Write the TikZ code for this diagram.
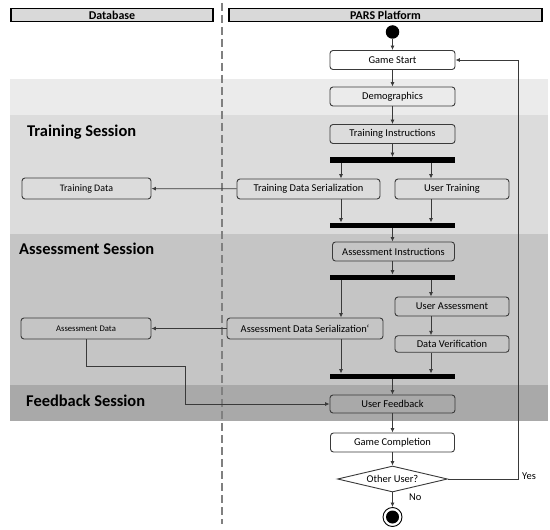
\documentclass[tikz,border=0pt]{standalone}
\usepackage{fontspec}
\setmainfont{Carlito}
\usetikzlibrary{arrows.meta,shapes.geometric}

\definecolor{band0}{HTML}{EBEBEB}
\definecolor{band1}{HTML}{DCDCDC}
\definecolor{band2}{HTML}{C5C5C5}
\definecolor{band3}{HTML}{A9A9A9}
\definecolor{edge}{HTML}{3A3A3A}

\tikzset{
  act/.style={draw=edge,line width=0.9bp,rounded corners=3bp,minimum height=19bp,inner sep=1bp,font=\fontsize{10.5}{12}\selectfont},
  bar/.style={fill=black,minimum width=125bp,minimum height=5.5bp,inner sep=0pt},
  lane/.style={draw=black,line width=1.6bp,fill=black!15,minimum height=13bp,inner sep=0pt,font=\bfseries\fontsize{12}{14}\selectfont},
  session/.style={anchor=base west,inner sep=0pt,font=\bfseries\fontsize{16.5}{18}\selectfont},
  flow/.style={-{Latex[length=4.5bp,width=4bp]},draw=edge,line width=0.8bp}
}

\begin{document}
\begin{tikzpicture}[x=1bp,y=-1bp]
\useasboundingbox (0,0) rectangle (550,530);

% session bands
\fill[band0] (10,79) rectangle (548,115);
\fill[band1] (10,115) rectangle (548,234);
\fill[band2] (10,234) rectangle (548,385);
\fill[band3] (10,385) rectangle (548,421);

\node[session](training session) at (27,137) {Training Session};
\node[session](assessment session) at (19,254) {Assessment Session};
\node[session](feedback session) at (26,406) {Feedback Session};

% swimlanes
\node[lane,minimum width=202bp](database) at (112,15) {Database};
\node[lane,minimum width=313bp](pars platform) at (385.5,15) {PARS Platform};
\draw[draw=gray,line width=1.1bp,dash pattern=on 8bp off 4bp] (222,3) -- (222,524);

\coordinate (lcol) at (341,0);
\coordinate (rcol) at (431,0);

\node[circle,fill=black,minimum size=13.5bp,inner sep=0pt](start) at (392.5,32) {};

\node[act,fill=white,minimum width=125bp](game start) at (392.5,60) {Game Start};

\node[act,minimum width=125bp](demographics) at (392.5,96.5) {Demographics};

\node[act,minimum width=125bp](training instructions) at (392.5,134) {Training Instructions};

\node[bar](fork1) at (392.5,160) {};

\node[act,minimum width=143bp,minimum height=20bp](training data serialization) at (308.5,189) {Training Data Serialization};
\node[act,minimum width=114bp,minimum height=20bp](user training) at (452,189) {User Training};
\node[act,minimum width=129bp,minimum height=21bp,font=\fontsize{10}{12}\selectfont](training data) at (86.5,188.5) {Training Data};

\node[bar](join1) at (392.5,225.5) {};

\node[act,minimum width=122bp](assessment instructions) at (393.5,251.5) {Assessment Instructions};

\node[bar](fork2) at (392.5,277.5) {};

\node[act,minimum width=114bp](user assessment) at (452,306.5) {User Assessment};
\node[act,minimum width=156bp,minimum height=21bp](assessment data serialization) at (305,328.5) {Assessment Data Serialization`};
\node[act,minimum width=130bp,minimum height=21bp,font=\fontsize{8.7}{10}\selectfont](assessment data) at (86,328.5) {Assessment Data};
\node[act,minimum width=114bp,minimum height=16.5bp](data verification) at (452,344) {Data Verification};

\node[bar](join2) at (392.5,376.5) {};

\node[act,minimum width=125bp,minimum height=18bp](user feedback) at (392.5,404) {User Feedback};

\node[act,fill=white,minimum width=124bp](game completion) at (392.5,442.5) {Game Completion};

\node[diamond,draw=edge,line width=0.9bp,fill=white,aspect=4.2,inner sep=0pt,minimum width=110bp,minimum height=26bp,font=\fontsize{10.5}{12}\selectfont](other user) at (392.5,479) {Other User?};

\node[circle,draw=black,line width=0.9bp,fill=white,minimum size=19bp,inner sep=0pt](end) at (392.5,517) {};
\node[circle,fill=black,minimum size=13bp,inner sep=0pt](end dot) at (end) {};

\node[anchor=west,inner sep=0pt,font=\fontsize{10.5}{12}\selectfont](yes) at (522,476) {Yes};
\node[anchor=west,inner sep=0pt,font=\fontsize{10.5}{12}\selectfont](no) at (409,497) {No};

\coordinate (loop) at (518,60);
\coordinate (feedback turn) at (185,366);

\draw[flow] (start) to (game start);
\draw[flow] (game start) to (demographics);
\draw[flow] (demographics) to (training instructions);
\draw[flow] (training instructions) to (fork1);

\draw[flow] (fork1.south -| lcol) to (training data serialization.north -| lcol);
\draw[flow] (fork1.south -| rcol) to (user training.north -| rcol);
\draw[flow] (training data serialization.south -| lcol) to (join1.north -| lcol);
\draw[flow] (user training.south -| rcol) to (join1.north -| rcol);
\draw[flow] (training data serialization) to (training data);

\draw[flow] (join1) to (assessment instructions.north -| join1);
\draw[flow] (assessment instructions.south -| fork2) to (fork2);

\draw[flow] (fork2.south -| lcol) to (assessment data serialization.north -| lcol);
\draw[flow] (fork2.south -| rcol) to (user assessment.north -| rcol);
\draw[flow] (user assessment.south -| rcol) to (data verification.north -| rcol);
\draw[flow] (assessment data serialization.south -| lcol) to (join2.north -| lcol);
\draw[flow] (data verification.south -| rcol) to (join2.north -| rcol);
\draw[flow] (assessment data serialization) to (assessment data);

\draw[flow] (assessment data) |- (feedback turn) |- (user feedback);
\draw[flow] (join2) to (user feedback);
\draw[flow] (user feedback) to (game completion);
\draw[flow] (game completion) to (other user);
\draw[flow] (other user) to (end);
\draw[flow] (other user.east) -| (loop) -- (game start.east);

\end{tikzpicture}
\end{document}
